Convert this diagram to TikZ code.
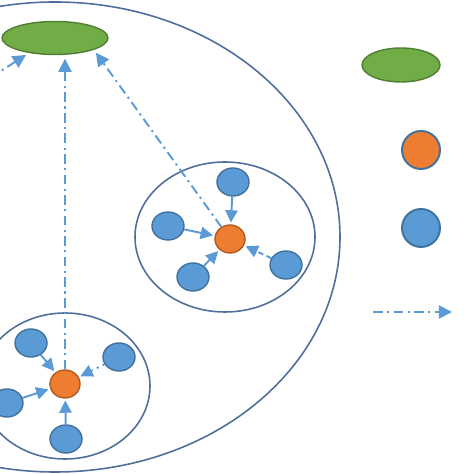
\documentclass[tikz,border=0pt]{standalone}
\usepackage{tikz}
\usetikzlibrary{arrows.meta}
\usetikzlibrary{shapes.geometric}

\definecolor{grfill}{HTML}{70AD47}
\definecolor{grline}{HTML}{507E32}
\definecolor{orfill}{HTML}{ED7D31}
\definecolor{orline}{HTML}{AE5A21}
\definecolor{blfill}{HTML}{5B9BD5}
\definecolor{blline}{HTML}{41719C}
\definecolor{ring}{HTML}{4F6E9A}

\begin{document}
\begin{tikzpicture}[
    sink/.style={ellipse,draw=grline,fill=grfill,line width=0.8pt,minimum width=2.12cm,minimum height=0.66cm},
    head/.style={ellipse,draw=orline,fill=orfill,line width=0.8pt,minimum width=0.60cm,minimum height=0.56cm,inner sep=0pt},
    member/.style={ellipse,draw=blline,fill=blfill,line width=0.8pt,minimum width=0.64cm,minimum height=0.56cm,inner sep=0pt},
    ringline/.style={draw=ring,line width=0.9pt},
    tohead/.style={blfill,line width=1.1pt,-{Triangle[length=7pt,width=7pt]},shorten >=1pt},
    dashdot/.style={blfill,line width=1.1pt,dash pattern=on 5.5pt off 2.5pt on 1.2pt off 2.5pt,-{Triangle[length=7.5pt,width=7.5pt]},shorten >=2pt}
  ]
  \clip (0,0) rectangle (9.48,9.48);
  % network and clusters
  \draw[ringline] (1.10,4.74) ellipse [x radius=5.70,y radius=4.70];
  \draw[ringline] (4.50,4.74) ellipse [x radius=1.80,y radius=1.50];
  \draw[ringline] (1.30,1.76) ellipse [x radius=1.70,y radius=1.46];

  \node[sink] (bs) at (1.10,8.72) {};

  % right cluster
  \node[head] (rh) at (4.60,4.70) {};
  \node[member] (rt) at (4.66,5.84) {};
  \node[member] (rl) at (3.36,4.96) {};
  \node[member] (rb) at (3.86,3.94) {};
  \node[member] (rr) at (5.72,4.18) {};
  \draw[tohead] (rt) -- (rh);
  \draw[tohead] (rl) -- (rh);
  \draw[tohead] (rb) -- (rh);
  \draw[tohead,dash pattern=on 3pt off 2pt] (rr) -- (rh);

  % left cluster
  \node[head] (lh) at (1.30,1.80) {};
  \node[member] (lt) at (0.62,2.62) {};
  \node[member] (lr) at (2.38,2.34) {};
  \node[member] (ll) at (0.14,1.42) {};
  \node[member] (lb) at (1.32,0.70) {};
  \draw[tohead] (lt) -- (lh);
  \draw[tohead] (ll) -- (lh);
  \draw[tohead] (lb) -- (lh);
  \draw[tohead,dash pattern=on 1.2pt off 2.5pt] (lr) -- (lh);

  % to the sink
  \coordinate (far) at (-0.2,7.92);
  \draw[dashdot] (lh.north) -- (lh.north |- bs.south);
  \draw[dashdot] (rh) -- (bs.-17);
  \draw[dashdot] (far) -- (bs.-150);

  % legend
  \node[sink,minimum width=1.56cm,minimum height=0.68cm] (ksink) at (8.02,8.18) {};
  \node[head,draw=blline,line width=1.1pt,minimum width=0.76cm,minimum height=0.76cm] (khead) at (8.42,6.48) {};
  \node[member,line width=1.1pt,minimum width=0.76cm,minimum height=0.76cm] (kmember) at (8.42,4.92) {};
  \coordinate (ka) at (7.46,3.24);
  \coordinate (kb) at (9.04,3.24);
  \draw[dashdot,shorten >=0pt] (ka) -- (kb);
\end{tikzpicture}
\end{document}
